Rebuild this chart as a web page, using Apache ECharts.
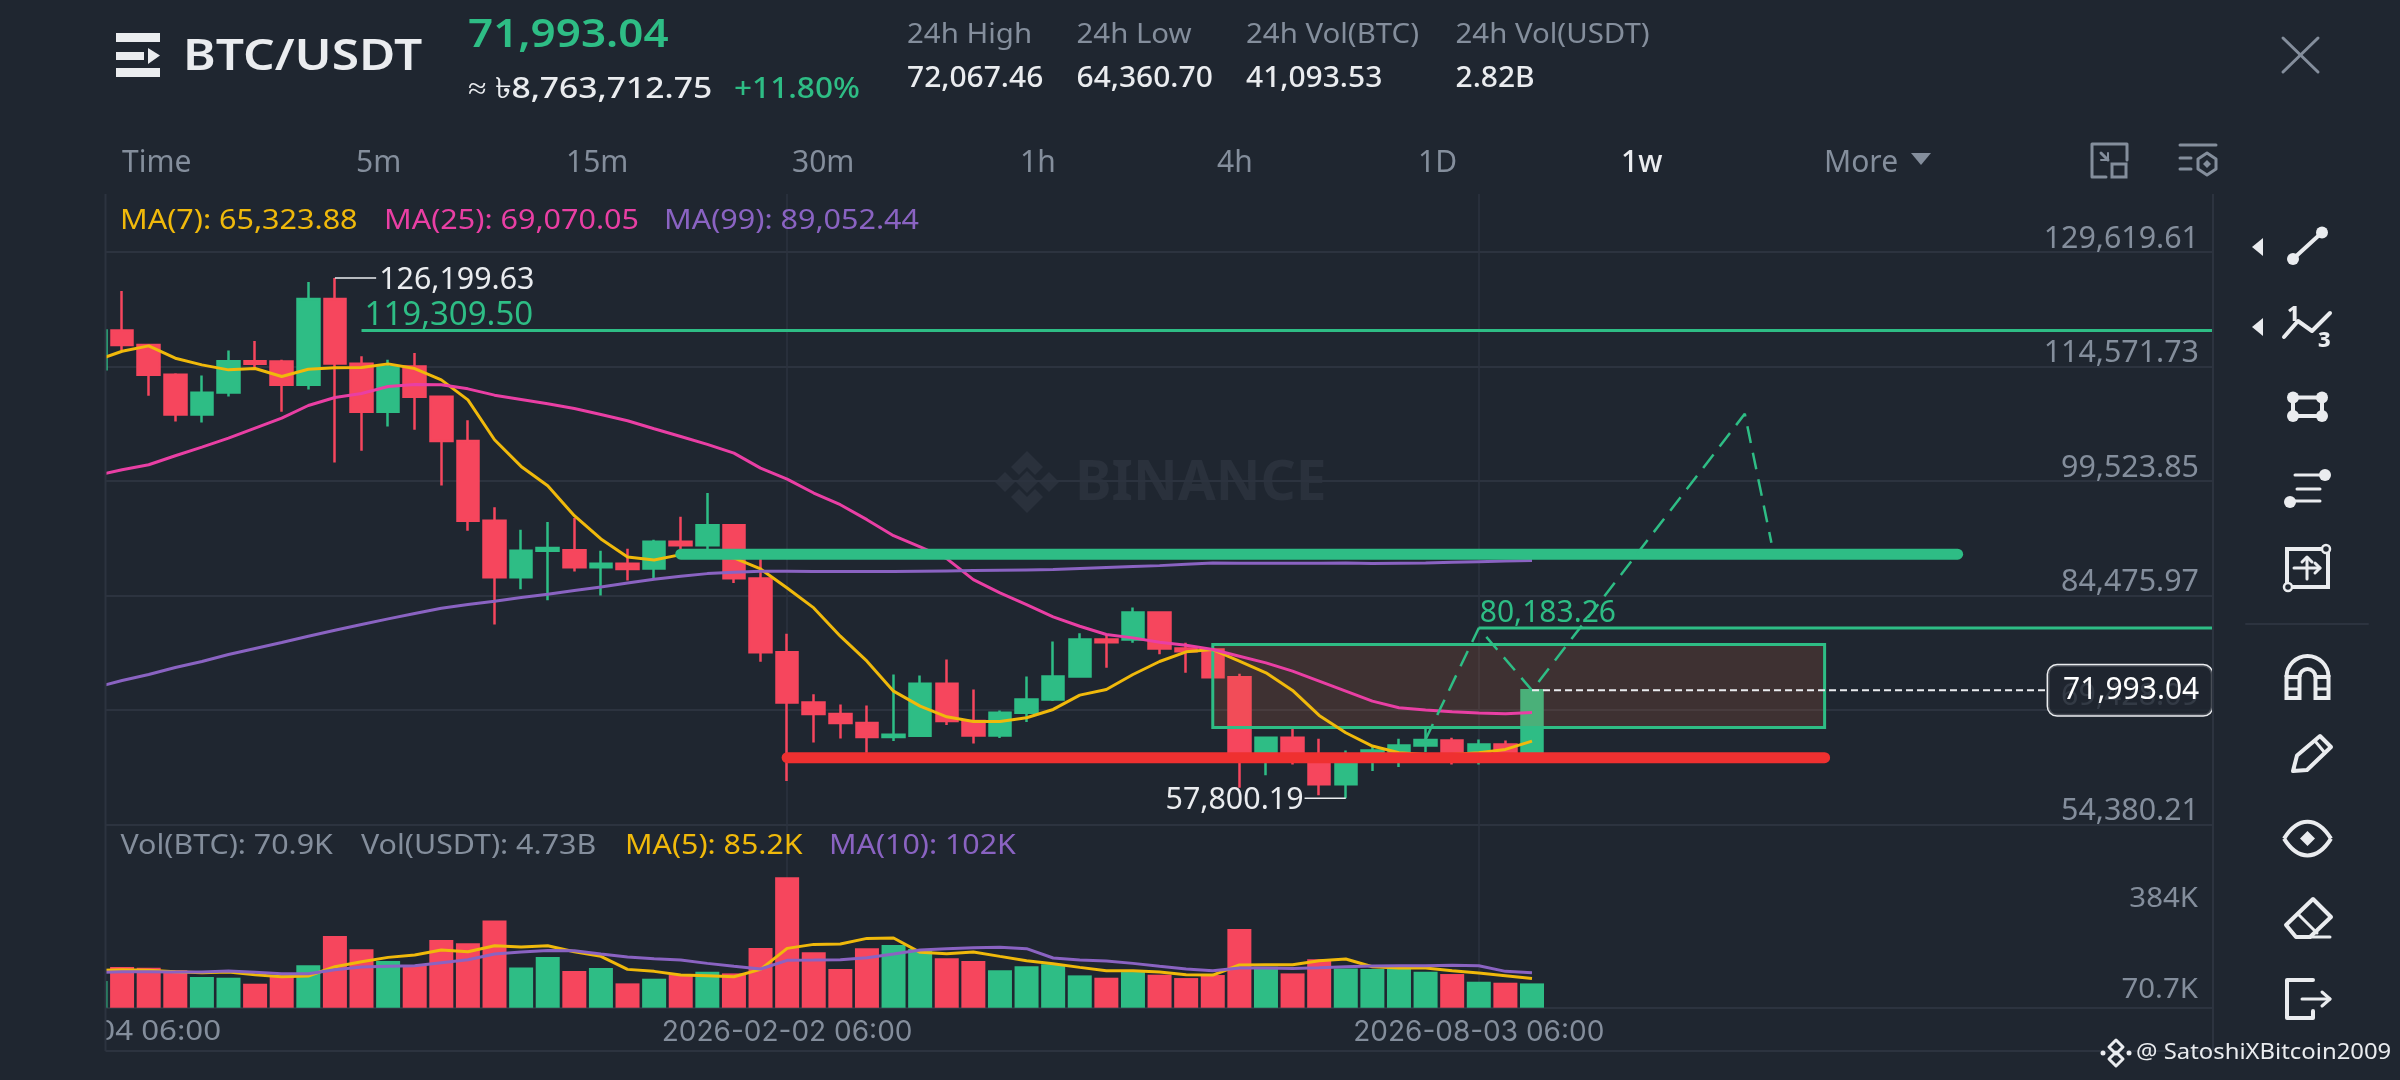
<!DOCTYPE html>
<html><head><meta charset="utf-8">
<style>html,body{margin:0;padding:0;background:#1f2630}#c{width:2400px;height:1080px}</style>
<script src="https://cdn.jsdelivr.net/npm/echarts@6/dist/echarts.min.js"></script>
</head><body><div id="c"></div>
<script>
// ---------- data ----------
const candleOpen = [114212,119290,117407,113468,108260,111148,115263,115219,112155,123448,114912,108610,114562,110579,104758,94297,86856,90358,90402,88169,88650,87994,91540,91058,93684,86681,77008,70399,68867,67686,65846,66022,72849,67947,66066,69042,70793,73813,78671,78671,82216,77489,77358,73725,63133,65759,62695,59631,63571,63877,64753,65410,63877,64884,63877];
const candleClose = [119290,117407,113468,108260,111105,115263,114912,112155,123448,114956,108610,114562,110579,104758,94297,86856,90358,90708,88169,88650,87950,91540,91058,93684,86725,77008,70399,68867,67686,65846,66153,72849,67947,66066,69042,70793,73813,78671,78321,82216,77489,77139,73725,63133,65759,62695,59631,62695,64097,64753,65453,63571,64884,63877,71993.04];
const candleLow = [114212,116751,110711,107340,107209,110623,114344,108610,111542,101957,103489,106684,106246,98937,92984,80641,85280,83835,87600,84449,86418,86769,90489,90270,86112,75738,60069,65146,65671,63789,65322,65846,67422,65015,65716,67816,70574,73725,74951,78233,76745,74294,73638,59193,60813,62257,58187,57800.19,61382,61908,63877,62258,62258,63571,63500];
const candleHigh = [119290,124498,117539,113687,113381,116663,117933,115438,125680,126199.63,115919,115438,116357,110754,107516,96048,93115,94122,94647,90358,90620,91802,94822,97930,93800,89395,79416,71493,70136,70005,74075,73944,76045,72106,69348,73813,78409,79503,79371,82873,82392,78233,77489,74163,65890,67291,65627,64096,64665,65628,67073,65759,65540,65410,72067.46];
const ma7 = [115350,116576,117276,115657,114781,114125,114300,113249,114212,114387,114431,114912,114300,112812,110185,104933,101431,98893,94955,91891,89526,89132,89832,90053,89395,87950,85456,82829,79109,75826,71887,69917,68517,67904,67904,68385,69480,71361,72106,74075,75782,77052,77358,75826,74294,71975,68692,66416,64665,63790,63571,63571,63790,64228,65323.88];
const ma25 = [100206,100994,101650,102832,103970,105152,106465,107778,109442,110492,111017,111936,112199,112155,111630,110799,110229,109660,109047,108259,107428,106378,105371,104321,103182,101212,99768,97930,96398,94428,92327,90839,89307,86550,84799,83267,81648,80422,79328,78890,78321,77927,77358,76483,75607,74513,73200,71887,70574,69698,69392,69174,69000,68912,69070.05];
const ma99 = [72368,73287,74075,74994,75782,76701,77489,78277,79109,79897,80641,81385,82085,82785,83267,83705,84186,84624,85105,85587,86112,86593,86987,87337,87512,87644,87644,87600,87600,87600,87600,87644,87688,87732,87776,87819,87863,87994,88126,88257,88388,88563,88738,88694,88694,88694,88694,88738,88651,88694,88738,88826,88913,89001,89052.44];
const volume = [77.8,118.6,116.7,108.9,89.5,87.5,70,95.3,123.5,209,170.2,136.1,124.5,197.4,187.7,254.7,117.6,147.8,107,115.7,71,84.6,95.3,105,100.1,174,380.2,161.4,112.8,173.1,182.8,171.1,143.9,136.1,108.9,120.6,126.4,94.3,87.5,104,96.3,86.5,95.3,229.5,119.6,100.1,141,114.7,112.8,112.8,105,98.2,75.8,72.9,70.9];
const volMa5 = [108.9,110.8,108.9,105,102.1,104,96.3,90.4,92.4,119.6,134.2,146.8,153.6,168.2,163.3,180.8,177,180.8,163.3,149.7,111.8,106,95.3,93.3,90.4,111.8,173.1,184.7,185.7,202.2,203.2,161.4,157.5,162.4,149.7,137.1,128.3,117.6,107.9,107.9,104,96.3,95.3,124.5,125.4,125.4,137.1,142,119.6,115.7,115.7,107.9,101.1,93.3,85.2];
const volMa10 = [103.1,105,105,104,104,107,103.1,99.2,99.2,110.8,118.6,120.6,122.5,131.3,140,156.5,162.4,167.2,166.3,156.5,147.8,142.9,139,129.3,120.6,112.8,138.1,139,140,145.8,156.5,168.2,172.1,175,176,172.1,144.9,139,136.1,129.3,120.6,112.8,107.9,115.7,115.7,114.7,116.7,119.6,121.5,122.5,122.5,123.5,122.5,106,102];
const priceTicks = [54380.21,69428.09,84475.97,99523.85,114571.73,129619.61];
const dateTickIndex = [26,52];
const dateTickLabels = {26:'2026-02-02 06:00',52:'2026-08-03 06:00'};
const resistanceTop = [[10,119309.50],[79.6,119309.50]];
const resistanceMid = [[52,80183.26],[79.6,80183.26]];
const thickGreen = [[22,89898],[70,89898]];
const thickRed = [[26,63136],[65,63136]];
const dashedPath = [[50,65540],[52,80183.26],[54,71993.04],[62,108347],[63,91408]];
const boxCorners = [[42,78014],[65,67116]];
const highMark = [[9,126199.63],[10.55,126199.63]];
const lowMark = [[47,57800.19],[45.45,57800.19]];
const lastPriceLine = [[54,71993.04],[73.4,71993.04]];

// ---------- styles ----------
const BG='#1f2630',GRID='#2c333f',UP='#2ebd85',DOWN='#f6465d',GRAY='#848e9c',WHITE='#eaecef',YEL='#f0b90b',PINK='#e93fa4',PUR='#8a63c2';
const FF='"Noto Sans"',NUM='Inter';
const fmt=v=>v.toLocaleString('en-US',{minimumFractionDigits:2,maximumFractionDigits:2});
const xs=candleOpen.map((_,i)=>i);
const zip=a=>a.map((v,i)=>[i,v]);
const lineS=(name,data,color,w,xi,extra)=>Object.assign({name,type:'line',data,xAxisIndex:xi,yAxisIndex:xi,showSymbol:false,symbol:'none',silent:true,animation:false,z:4,lineStyle:{color,width:w}},extra||{});
const labelled=(data,idx,label,color,w,type,z)=>({type:'line',xAxisIndex:0,yAxisIndex:0,silent:true,animation:false,z,symbol:'circle',symbolSize:0,showSymbol:true,lineStyle:{color,width:w,type:type||'solid'},itemStyle:{color:'transparent'},
  data:data.map((d,i)=>i===idx?{value:d,label:label}:{value:d,label:{show:false}})});

// ---------- overlay helpers ----------
const g=[];
const T=(text,x,y,fill,size,weight,sx,align,z)=>g.push({type:'text',z:z||20,silent:true,x:x,y:y+2,scaleX:sx||1,style:{text,x:0,y:0,fill,font:`${weight||400} ${size}px ${FF}`,textAlign:align||'left',textVerticalAlign:'middle'}});
const L=(x1,y1,x2,y2,c,w)=>g.push({type:'line',z:20,silent:true,shape:{x1,y1,x2,y2},style:{stroke:c,lineWidth:w||4,lineCap:'round'}});
const C=(cx,cy,r,c)=>g.push({type:'circle',z:20,silent:true,shape:{cx,cy,r},style:{fill:c}});
const PG=(points,fill,stroke,w)=>g.push({type:'polygon',z:20,silent:true,shape:{points},style:{fill:fill||'none',stroke:stroke||'none',lineWidth:w||0,lineJoin:'round'}});
const PL=(points,c,w)=>g.push({type:'polyline',z:20,silent:true,shape:{points},style:{stroke:c,lineWidth:w||4,fill:'none',lineJoin:'round',lineCap:'round'}});
const R=(x,y,width,height,fill,stroke,w,r)=>g.push({type:'rect',z:20,silent:true,shape:{x,y,width,height,r:r||0},style:{fill:fill||'none',stroke:stroke||'none',lineWidth:w||0}});

// header
R(116,33,44,9,WHITE);R(116,68,44,9,WHITE);R(116,52,28,8,WHITE);PG([[148,48],[160,55.5],[148,64]],WHITE);
T('BTC/USDT',183,55,WHITE,44,600,1.13);
T('71,993.04',468,34,UP,40,600,1.10);
T('≈ ৳8,763,712.75',468,88,WHITE,29,500,1.16);
T('+11.80%',734,88,UP,29,500,1.09);
[['24h High','72,067.46',907],['24h Low','64,360.70',1076.5],['24h Vol(BTC)','41,093.53',1246],['24h Vol(USDT)','2.82B',1455.5]].forEach(a=>{T(a[0],a[2],33,GRAY,28,400,1.05);T(a[1],a[2],77,WHITE,28,500,1.07);});
L(2283,38,2318,72,GRAY,3);L(2318,38,2283,72,GRAY,3);
[['Time',122],['5m',356],['15m',566],['30m',792],['1h',1020],['4h',1217],['1D',1418],['More',1824]].forEach(a=>T(a[0],a[1],161.5,GRAY,30));
T('1w',1621,161.5,WHITE,30,500);
PG([[1911,153],[1931,153],[1921,165]],GRAY);
// tool icons in the tab row
PL([[2127,160],[2127,144],[2092,144],[2092,177],[2106,177]],GRAY,3);R(2112,164,14,13,'none',GRAY,3);PL([[2101,153],[2108,160]],GRAY,3);PL([[2108,153],[2108,160],[2101,160]],GRAY,2);
L(2180,145,2216,145,GRAY,3);L(2180,158,2191,158,GRAY,3);L(2180,169,2191,169,GRAY,3);PG([[2207,153],[2216,159],[2216,169],[2207,175],[2198,169],[2198,159]],'none',GRAY,3);PG([[2207,160],[2211,164],[2207,168],[2203,164]],GRAY);
// legends
[['MA(7): 65,323.88',120,YEL],['MA(25): 69,070.05',384,PINK],['MA(99): 89,052.44',664,PUR]].forEach(a=>T(a[0],a[1],219.5,a[2],27,400,1.13));
[['Vol(BTC): 70.9K',120.5,GRAY],['Vol(USDT): 4.73B',361,GRAY],['MA(5): 85.2K',625,YEL],['MA(10): 102K',829,PUR]].forEach(a=>T(a[0],a[1],844,a[2],27,400,1.125));
// volume labels
T('384K',2198,897.5,GRAY,28,400,1.05,'right',1);T('70.7K',2198,988,GRAY,28,400,1.05,'right',1);
// clipped first date
T('04 06:00',221,1030,GRAY,27,400,1.157,'right',1);
g.push({type:'rect',z:2,silent:true,shape:{x:60,y:1012,width:45,height:38},style:{fill:BG}});
// cover for the part of the first week that falls left of the plot
g.push({type:'rect',z:10,silent:true,shape:{x:40,y:194,width:65,height:816},style:{fill:BG}});
// frame
[[105.5,194,105.5,1051],[2213,194,2213,1051],[105.5,1051,2213,1051]].forEach(a=>g.push({type:'line',z:11,silent:true,shape:{x1:a[0],y1:a[1],x2:a[2],y2:a[3]},style:{stroke:GRID,lineWidth:2}}));
// watermark
const WM='#2a313c';
g.push({type:'text',z:0,silent:true,style:{text:'BINANCE',x:1075,y:484,fill:WM,font:`700 55px ${FF}`,textVerticalAlign:'middle'}});
[[[1027,451],[1043,467],[1035,475],[1027,467],[1019,475],[1011,467]],[[1027,513],[1043,497],[1035,489],[1027,497],[1019,489],[1011,497]],[[1027,471],[1038,482],[1027,493],[1016,482]],[[995,482],[1005,472],[1015,482],[1005,492]],[[1039,482],[1049,472],[1059,482],[1049,492]]].forEach(p=>g.push({type:'polygon',z:0,silent:true,shape:{points:p},style:{fill:WM}}));
// author
T('@ SatoshiXBitcoin2009',2136,1051,WHITE,22,400,1.085);
PG([[2116,1040],[2123,1047],[2116,1054],[2109,1047]],'none',WHITE,3);PG([[2116,1052],[2123,1059],[2116,1066],[2109,1059]],'none',WHITE,3);C(2103,1053,2.5,WHITE);C(2129,1053,2.5,WHITE);
// toolbar
const TW=WHITE;
PG([[2263,238],[2263,256],[2252,247]],TW);PG([[2263,318],[2263,336],[2252,327]],TW);
C(2293,259,6,TW);C(2322,232.5,6,TW);L(2293,259,2322,232.5,TW,4);
PL([[2284,337],[2298,321],[2312,331],[2330,313]],TW,4);T('1',2287,313,TW,22,800);T('3',2318,339,TW,22,800);
R(2293,397.5,29,18.5,'none',TW,4);[[2293,397.5],[2322,397.5],[2293,416],[2322,416]].forEach(p=>C(p[0],p[1],6,TW));
L(2295,475,2320,475,TW,3);L(2297,489,2320,489,TW,3);L(2295,501,2320,501,TW,3);C(2325,475,6,TW);C(2290,502,6,TW);
R(2287,549,41,38,'none',TW,4);g.push({type:'circle',z:21,silent:true,shape:{cx:2288,cy:587,r:4},style:{fill:BG,stroke:TW,lineWidth:2.5}});g.push({type:'circle',z:21,silent:true,shape:{cx:2326,cy:549,r:4},style:{fill:BG,stroke:TW,lineWidth:2.5}});
L(2294,568,2320,568,TW,3);L(2307,558,2307,579,TW,3);PL([[2315,563],[2320,568],[2315,573]],TW,3);PL([[2302,562],[2307,557],[2312,562]],TW,3);
L(2246,624,2368,624,GRID,2);
g.push({type:'arc',z:20,silent:true,shape:{cx:2307.5,cy:677,r:21,startAngle:Math.PI,endAngle:2*Math.PI},style:{stroke:TW,lineWidth:4,fill:'none'}});
g.push({type:'arc',z:20,silent:true,shape:{cx:2307.5,cy:677,r:8,startAngle:Math.PI,endAngle:2*Math.PI},style:{stroke:TW,lineWidth:4,fill:'none'}});
R(2286.5,677,13,21,'none',TW,4);R(2315.5,677,13,21,'none',TW,4);L(2287,689,2299,689,TW,3);L(2316,689,2328,689,TW,3);
PG([[2293,771],[2297,755.5],[2320,736],[2331,747],[2307,770]],'none',TW,4);L(2315,741,2325,753,TW,3);
g.push({type:'bezierCurve',z:20,silent:true,shape:{x1:2284,y1:838.6,cpx1:2298,cpy1:816,cpx2:2317,cpy2:816,x2:2331,y2:838.6},style:{stroke:TW,lineWidth:4,fill:'none'}});
g.push({type:'bezierCurve',z:20,silent:true,shape:{x1:2284,y1:838.6,cpx1:2298,cpy1:861,cpx2:2317,cpy2:861,x2:2331,y2:838.6},style:{stroke:TW,lineWidth:4,fill:'none'}});
PG([[2307.5,831],[2315,838.6],[2307.5,846],[2300,838.6]],TW);
PG([[2286,925],[2313,899],[2331,917],[2310,937],[2296,937]],'none',TW,4);L(2298,914,2317,933,TW,3);L(2310,937,2330,937,TW,3);
PL([[2313,980],[2287,980],[2287,1018],[2313,1018],[2313,1011]],TW,4);L(2302,999,2330,999,TW,3);PL([[2322,992],[2330,999],[2322,1006]],TW,3);

// ---------- chart ----------
const series=[
 {type:'candlestick',name:'BTC/USDT',xAxisIndex:0,yAxisIndex:0,silent:true,animation:false,z:2,barWidth:22,clip:true,
  encode:{x:0,y:[1,2,3,4]},
  data:xs.map(i=>[i,candleOpen[i],candleClose[i],candleLow[i],candleHigh[i]]),
  itemStyle:{color:UP,color0:DOWN,borderColor:UP,borderColor0:DOWN,borderWidth:2.5,borderColorDoji:null}},
 {type:'line',data:[],xAxisIndex:0,yAxisIndex:0,silent:true,animation:false,z:3,
  markArea:{silent:true,animation:false,z:3,itemStyle:{color:'rgba(226,110,60,0.16)',borderColor:UP,borderWidth:3,opacity:1},
   data:[[{coord:boxCorners[0]},{coord:boxCorners[1]}]]}},
 lineS('MA7',zip(ma7),YEL,3,0),
 lineS('MA25',zip(ma25),PINK,3,0),
 lineS('MA99',zip(ma99),PUR,3,0),
 labelled(resistanceTop,0,{show:true,position:'top',align:'left',distance:0,offset:[3,1.5],formatter:()=>fmt(resistanceTop[0][1]),color:UP,fontFamily:FF,fontSize:33},UP,3,null,5),
 labelled(resistanceMid,0,{show:true,position:'top',align:'left',distance:0,offset:[1,0],formatter:()=>fmt(resistanceMid[0][1]),color:UP,fontFamily:FF,fontSize:30},UP,3,null,5),
 lineS('thickGreen',thickGreen,UP,11,0,{z:5,lineStyle:{color:UP,width:11,cap:'round'}}),
 lineS('thickRed',thickRed,'#ef3030',11,0,{z:5,lineStyle:{color:'#ef3030',width:11,cap:'round'}}),
 lineS('dashed',dashedPath,UP,2.5,0,{z:6,lineStyle:{color:UP,width:2.5,type:[17,10]}}),
 labelled(highMark,1,{show:true,position:'right',distance:3,offset:[0,2],formatter:()=>fmt(highMark[0][1]),color:WHITE,fontFamily:FF,fontSize:30.4},WHITE,1.5,null,7),
 labelled(lowMark,1,{show:true,position:'left',distance:1,offset:[0,2],formatter:()=>fmt(lowMark[0][1]),color:WHITE,fontFamily:FF,fontSize:30.4},WHITE,1.5,null,7),
 labelled(lastPriceLine,1,{show:true,position:'right',distance:0,offset:[0,0],formatter:()=>fmt(lastPriceLine[0][1]),color:'#fff',fontFamily:FF,fontSize:30,backgroundColor:'rgba(31,38,48,0.8)',borderColor:WHITE,borderWidth:1.5,borderRadius:9,padding:[12,13,8,15]},WHITE,2,[7,4],8),
 {type:'bar',name:'Vol',xAxisIndex:1,yAxisIndex:1,silent:true,animation:false,barWidth:24,clip:true,z:2,
  data:xs.map(i=>({value:[i,volume[i]],itemStyle:{color:candleClose[i]>=candleOpen[i]?UP:DOWN}}))},
 lineS('VolMA5',zip(volMa5),YEL,3,1),
 lineS('VolMA10',zip(volMa10),PUR,3,1)
];
const chart=echarts.init(document.getElementById('c'),null,{renderer:'canvas',width:2400,height:1080});
chart.setOption({
 backgroundColor:BG,animation:false,textStyle:{fontFamily:FF},
 grid:[{left:105.6,top:194,width:2107.4,height:630.3},{left:105.6,top:824.3,width:2107.4,height:183.4}],
 xAxis:[
  {type:'value',gridIndex:0,min:0.38,max:79.6,axisLine:{show:false},axisLabel:{show:false},axisTick:{show:false,customValues:dateTickIndex},splitLine:{show:true,lineStyle:{color:GRID,width:1.5}}},
  {type:'value',gridIndex:1,min:0.38,max:79.6,axisLine:{show:true,onZero:false,lineStyle:{color:GRID,width:2}},axisTick:{show:false,customValues:dateTickIndex},splitLine:{show:true,lineStyle:{color:GRID,width:1.5}},
   axisLabel:{show:true,customValues:dateTickIndex,formatter:v=>dateTickLabels[v]||'',color:GRAY,fontFamily:NUM,fontSize:28,margin:11,showMinLabel:true,showMaxLabel:true}}
 ],
 yAxis:[
  {type:'value',gridIndex:0,position:'right',min:54380.21,max:137245,axisLine:{show:false},axisTick:{show:false,customValues:priceTicks},
   splitLine:{show:true,lineStyle:{color:GRID,width:2}},
   axisLabel:{show:true,inside:true,customValues:priceTicks,formatter:v=>fmt(v),color:GRAY,fontFamily:FF,fontSize:30.4,lineHeight:26,margin:14,verticalAlign:'bottom',align:'right',hideOverlap:false}},
  {type:'value',gridIndex:1,position:'right',min:0,max:535,axisLine:{show:false},axisTick:{show:false},axisLabel:{show:false},splitLine:{show:false}}
 ],
 series,graphic:{elements:g}
});
</script></body></html>
